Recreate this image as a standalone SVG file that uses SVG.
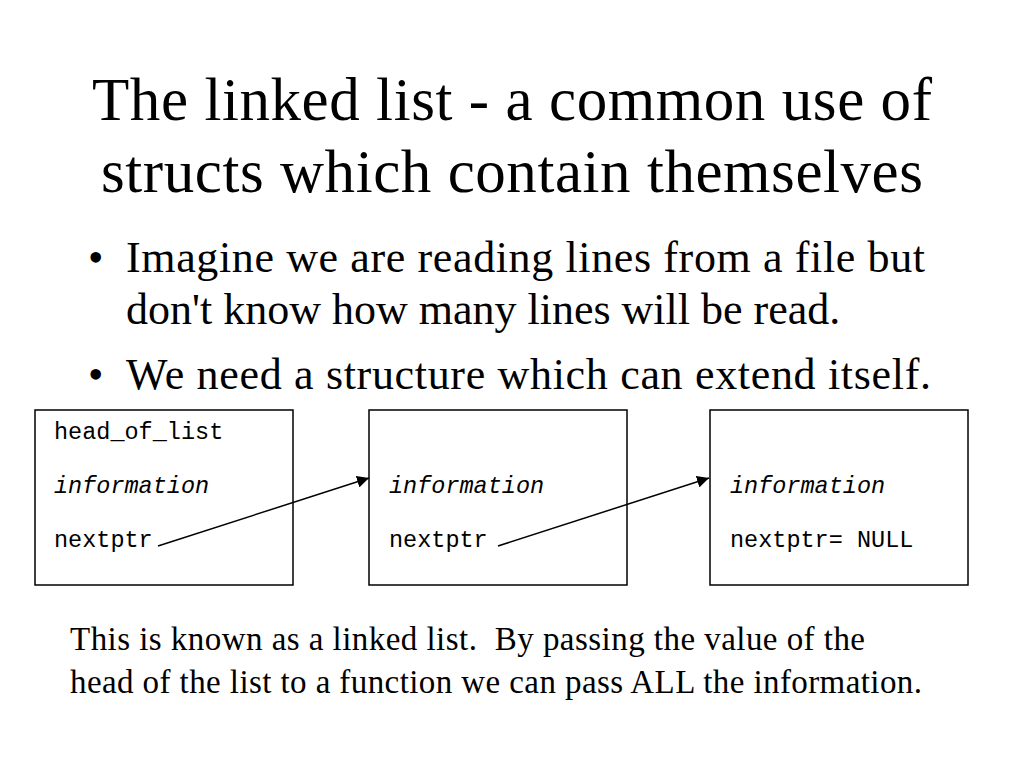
<svg xmlns="http://www.w3.org/2000/svg" width="1024" height="768" viewBox="0 0 1024 768">
<style>
.t{font-family:"Liberation Serif",serif;fill:#000}
.m{font-family:"Liberation Mono",monospace;font-size:23.5px;fill:#000}
.box{fill:#fff;stroke:#000;stroke-width:1.5}
.c{stroke:#000;stroke-width:1.5;fill:none;marker-end:url(#a)}
</style>
<defs><marker id="a" viewBox="0 0 10 10" refX="10" refY="5" markerWidth="12" markerHeight="12" markerUnits="userSpaceOnUse" orient="auto"><path d="M0,0L10,5L0,10z"/></marker></defs>
<rect width="1024" height="768" fill="#fff"/>
<text class="t" font-size="61" text-anchor="middle" x="512" y="120" textLength="840">The linked list - a common use of</text>
<text class="t" font-size="61" text-anchor="middle" x="512" y="192" textLength="822">structs which contain themselves</text>
<text class="t" font-size="44" x="88" y="272">•</text>
<text class="t" font-size="44" x="126" y="272" textLength="799">Imagine we are reading lines from a file but</text>
<text class="t" font-size="44" x="126" y="324">don't know how many lines will be read.</text>
<text class="t" font-size="44" x="88" y="389">•</text>
<text class="t" font-size="44" x="126" y="389" textLength="805">We need a structure which can extend itself.</text>
<g id="n1"><rect class="box" x="35" y="410" width="258" height="175"/>
<text class="m" x="54" y="439">head_of_list</text><text class="m" x="54" y="493" font-style="italic">information</text><text class="m" x="54" y="547">nextptr</text></g>
<g id="n2"><rect class="box" x="369" y="410" width="258" height="175"/>
<text class="m" x="389" y="493" font-style="italic">information</text><text class="m" x="389" y="547">nextptr</text></g>
<g id="n3"><rect class="box" x="710" y="410" width="258" height="175"/>
<text class="m" x="730" y="493" font-style="italic">information</text><text class="m" x="730" y="547">nextptr= NULL</text></g>
<g id="connectors"><line class="c" x1="158" y1="546" x2="369" y2="478"/><line class="c" x1="498" y1="546" x2="709" y2="478"/></g>
<text class="t" font-size="33" x="70" y="650" xml:space="preserve" textLength="795">This is known as a linked list.  By passing the value of the</text>
<text class="t" font-size="33" x="70" y="693" textLength="852">head of the list to a function we can pass ALL the information.</text>
</svg>
